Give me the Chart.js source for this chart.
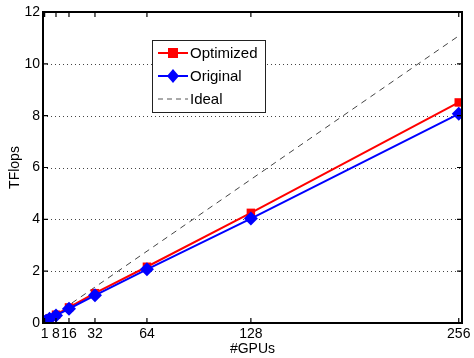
<!DOCTYPE html>
<html>
<head>
<meta charset="utf-8">
<script src="https://cdn.jsdelivr.net/npm/chart.js@4/dist/chart.umd.min.js"></script>
<style>
html,body{margin:0;padding:0;background:#fff;}
#wrap{width:474px;height:358px;position:relative;}
</style>
</head>
<body>
<div id="wrap"><canvas id="c" width="474" height="358"></canvas></div>
<script>
const gpus = [1, 2, 4, 8, 16, 32, 64, 128, 256];
const optimized = [0.045, 0.09, 0.17, 0.32, 0.60, 1.15, 2.17, 4.25, 8.51];
const original = [0.043, 0.085, 0.16, 0.29, 0.55, 1.07, 2.07, 4.03, 8.07];
const idealX = [1, 256];
const idealY = [0.043, 11.08];
const xTicks = [1, 8, 16, 32, 64, 128, 256];
const yTicks = [0, 2, 4, 6, 8, 10, 12];
const seriesNames = ['Optimized', 'Original', 'Ideal'];

const FONT = 'Liberation Sans, Arial, Helvetica, sans-serif';

const frame = {
  id: 'frame',
  beforeDatasetsDraw(chart) {
    const {ctx, chartArea: a, scales: {y}} = chart;
    ctx.save();
    ctx.strokeStyle = '#444';
    ctx.lineWidth = 1;
    ctx.setLineDash([1, 3]);
    ctx.beginPath();
    yTicks.slice(1, -1).forEach(v => {
      const py = Math.round(y.getPixelForValue(v)) + 0.5;
      ctx.moveTo(a.left, py); ctx.lineTo(a.right, py);
    });
    ctx.stroke();
    ctx.restore();
  },
  afterDatasetsDraw(chart) {
    const {ctx, chartArea: a, scales: {x, y}} = chart;
    ctx.save();
    ctx.strokeStyle = '#000';
    ctx.lineWidth = 2;
    ctx.strokeRect(a.left, a.top, a.right - a.left, a.bottom - a.top);
    ctx.lineWidth = 1.2;
    ctx.beginPath();
    xTicks.forEach(v => {
      const px = x.getPixelForValue(v);
      ctx.moveTo(px, a.bottom); ctx.lineTo(px, a.bottom - 5);
      ctx.moveTo(px, a.top); ctx.lineTo(px, a.top + 5);
    });
    yTicks.forEach(v => {
      const py = y.getPixelForValue(v);
      ctx.moveTo(a.left, py); ctx.lineTo(a.left + 5, py);
      ctx.moveTo(a.right, py); ctx.lineTo(a.right - 5, py);
    });
    ctx.stroke();
    // legend
    const lx = 152, ly = 40, lw = 113, lh = 72;
    ctx.fillStyle = '#fff';
    ctx.fillRect(lx, ly, lw, lh);
    ctx.strokeStyle = '#222';
    ctx.lineWidth = 1;
    ctx.strokeRect(lx + 0.5, ly + 0.5, lw, lh);
    const rows = [ly + 13, ly + 36, ly + 59];
    ctx.font = '15px ' + FONT;
    ctx.textBaseline = 'middle';
    ctx.textAlign = 'left';
    ctx.strokeStyle = '#f00'; ctx.lineWidth = 2;
    ctx.beginPath(); ctx.moveTo(lx + 6, rows[0]); ctx.lineTo(lx + 36, rows[0]); ctx.stroke();
    ctx.fillStyle = '#f00'; ctx.fillRect(lx + 21 - 5, rows[0] - 5, 10, 10);
    ctx.strokeStyle = '#00f';
    ctx.beginPath(); ctx.moveTo(lx + 6, rows[1]); ctx.lineTo(lx + 36, rows[1]); ctx.stroke();
    ctx.fillStyle = '#00f';
    ctx.beginPath(); ctx.moveTo(lx + 21, rows[1] - 7); ctx.lineTo(lx + 27, rows[1]); ctx.lineTo(lx + 21, rows[1] + 7); ctx.lineTo(lx + 15, rows[1]); ctx.closePath(); ctx.fill();
    ctx.strokeStyle = '#555'; ctx.lineWidth = 1; ctx.setLineDash([5, 4]);
    ctx.beginPath(); ctx.moveTo(lx + 6, rows[2]); ctx.lineTo(lx + 36, rows[2]); ctx.stroke();
    ctx.setLineDash([]);
    ctx.fillStyle = '#000';
    seriesNames.forEach((n, i) => ctx.fillText(n, lx + 38, rows[i] + 1));
    ctx.restore();
  }
};

new Chart(document.getElementById('c'), {
  type: 'line',
  data: {
    datasets: [
      {
        label: seriesNames[2],
        data: idealX.map((v, i) => ({x: v, y: idealY[i]})),
        borderColor: '#444', borderWidth: 1, borderDash: [6, 5],
        pointRadius: 0, fill: false, order: 3
      },
      {
        label: seriesNames[1],
        data: gpus.map((v, i) => ({x: v, y: original[i]})),
        borderColor: '#0000ff', backgroundColor: '#0000ff', borderWidth: 2,
        pointStyle: 'rectRot', pointRadius: 7, pointBorderWidth: 0, fill: false, order: 1
      },
      {
        label: seriesNames[0],
        data: gpus.map((v, i) => ({x: v, y: optimized[i]})),
        borderColor: '#ff0000', backgroundColor: '#ff0000', borderWidth: 2,
        pointStyle: 'rect', pointRadius: 6, pointBorderWidth: 0, fill: false, order: 2
      }
    ]
  },
  options: {
    responsive: false,
    animation: false,
    layout: {padding: {top: 12, right: 12, left: 0, bottom: 0}},
    plugins: {legend: {display: false}, tooltip: {enabled: false}},
    scales: {
      x: {
        type: 'linear', min: 0, max: 258,
        afterBuildTicks: s => { s.ticks = xTicks.map(v => ({value: v})); },
        afterFit: s => { s.height = 35; },
        grid: {display: false, drawTicks: false},
        border: {display: false},
        ticks: {color: '#000', font: {family: FONT, size: 14}, padding: 3, maxRotation: 0, autoSkip: false},
        title: {display: true, text: '#GPUs', color: '#000', font: {family: FONT, size: 14}, padding: {top: 0, bottom: 0}}
      },
      y: {
        min: 0, max: 12,
        afterBuildTicks: s => { s.ticks = yTicks.map(v => ({value: v})); },
        afterFit: s => { s.width = 43; },
        grid: {display: false, drawTicks: false},
        border: {display: false},
        ticks: {color: '#000', font: {family: FONT, size: 14}, padding: 3},
        title: {display: true, text: 'TFlops', color: '#000', font: {family: FONT, size: 14}, padding: {top: 7, bottom: 0}}
      }
    }
  },
  plugins: [frame]
});
</script>
</body>
</html>
